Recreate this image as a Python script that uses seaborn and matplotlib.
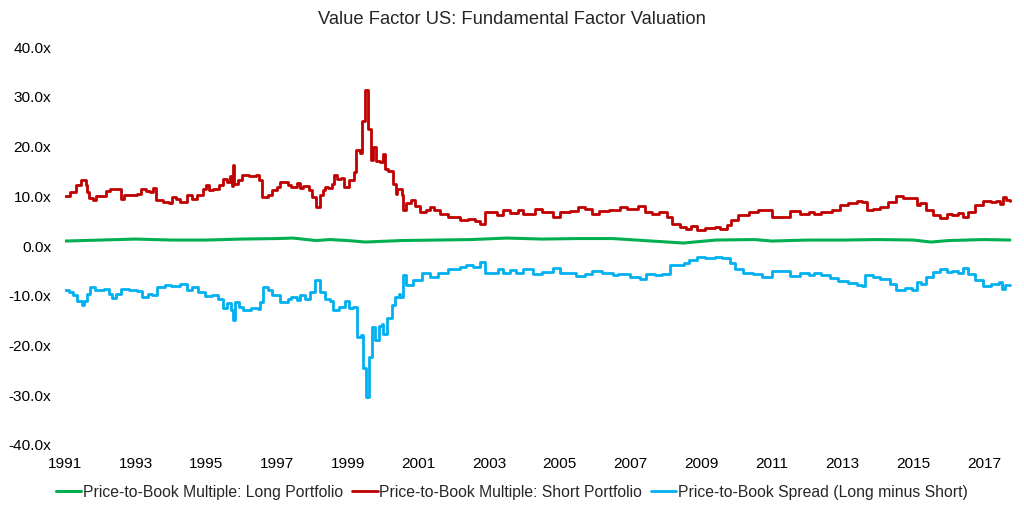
import numpy as np
import pandas as pd
import seaborn as sns
import matplotlib.pyplot as plt
from matplotlib.ticker import FuncFormatter

# Readings (decimal year, multiple)
long_dates = [1991.00, 1992.00, 1993.00, 1994.00, 1995.00, 1996.00, 1997.00, 1997.45,
              1998.10, 1998.50, 1999.00, 1999.50, 2000.50, 2001.50, 2002.50, 2003.50,
              2004.50, 2005.50, 2006.50, 2007.60, 2008.50, 2009.40, 2010.50, 2011.00,
              2012.00, 2013.00, 2014.00, 2015.00, 2015.50, 2016.00, 2017.00, 2017.73]
long_pb = [1.0, 1.2, 1.4, 1.2, 1.2, 1.4, 1.5, 1.6,
           1.1, 1.3, 1.1, 0.8, 1.1, 1.2, 1.3, 1.6,
           1.4, 1.5, 1.5, 1.0, 0.6, 1.2, 1.3, 1.0,
           1.2, 1.2, 1.3, 1.2, 0.8, 1.1, 1.3, 1.2]

short_dates = [1991.00, 1991.14, 1991.30, 1991.45, 1991.58, 1991.63, 1991.68, 1991.80, 1991.88,
               1992.10, 1992.17, 1992.27, 1992.45, 1992.58, 1992.68, 1993.05, 1993.15, 1993.30,
               1993.40, 1993.50, 1993.57, 1993.78, 1993.95, 1994.02, 1994.15, 1994.25, 1994.44,
               1994.60, 1994.72, 1994.90, 1995.00, 1995.08, 1995.20, 1995.35, 1995.48, 1995.58,
               1995.68, 1995.72, 1995.74, 1995.79, 1995.90, 1996.00, 1996.20, 1996.40, 1996.50,
               1996.56, 1996.75, 1996.85, 1996.99, 1997.08, 1997.30, 1997.40, 1997.55, 1997.65,
               1997.72, 1997.90, 1997.98, 1998.10, 1998.20, 1998.30, 1998.36, 1998.45, 1998.55,
               1998.60, 1998.70, 1998.82, 1998.90, 1999.02, 1999.18, 1999.23, 1999.35, 1999.41,
               1999.49, 1999.58, 1999.65, 1999.72, 1999.80, 1999.90, 1999.99, 2000.05, 2000.15,
               2000.27, 2000.35, 2000.40, 2000.52, 2000.57, 2000.65, 2000.80, 2000.90, 2001.04,
               2001.20, 2001.33, 2001.45, 2001.61, 2001.84, 2002.17, 2002.40, 2002.60, 2002.74,
               2002.88, 2003.21, 2003.40, 2003.60, 2003.82, 2003.95, 2004.30, 2004.50, 2004.81,
               2005.00, 2005.30, 2005.52, 2005.70, 2005.90, 2006.10, 2006.40, 2006.70, 2006.90,
               2007.22, 2007.41, 2007.60, 2007.80, 2008.02, 2008.16, 2008.40, 2008.58, 2008.70,
               2008.87, 2009.10, 2009.40, 2009.53, 2009.72, 2009.85, 2010.05, 2010.35, 2010.61,
               2010.80, 2010.99, 2011.27, 2011.51, 2011.79, 2012.05, 2012.20, 2012.40, 2012.69,
               2012.92, 2013.15, 2013.40, 2013.55, 2013.68, 2013.85, 2014.05, 2014.29, 2014.52,
               2014.70, 2014.95, 2015.10, 2015.20, 2015.37, 2015.56, 2015.75, 2015.95, 2016.10,
               2016.27, 2016.41, 2016.55, 2016.74, 2016.98, 2017.20, 2017.35, 2017.45, 2017.55,
               2017.62, 2017.73]
short_pb = [10.0, 10.8, 12.2, 13.2, 12.2, 10.8, 9.6, 9.2, 10.0,
            10.0, 11.0, 11.5, 11.4, 9.5, 10.2, 10.4, 11.5, 11.0,
            10.8, 11.7, 9.2, 8.8, 8.6, 9.8, 9.4, 8.8, 10.2,
            9.4, 10.2, 11.5, 12.2, 11.2, 11.5, 12.2, 13.5, 12.8,
            14.0, 12.0, 16.2, 12.5, 13.2, 14.2, 14.0, 14.2, 13.2,
            9.8, 10.2, 11.2, 11.9, 12.9, 12.2, 11.9, 12.7, 11.7,
            12.0, 11.2, 9.8, 7.8, 10.2, 11.2, 11.9, 11.7, 12.5,
            14.2, 13.4, 13.7, 11.9, 13.2, 14.9, 19.4, 18.8, 25.2,
            31.3, 23.6, 17.2, 20.0, 17.0, 16.8, 18.5, 15.5, 15.0,
            12.5, 10.5, 11.5, 10.2, 7.2, 8.6, 9.2, 8.0, 6.8,
            7.3, 7.8, 7.2, 6.5, 5.8, 5.3, 5.5, 5.0, 4.5,
            6.8, 6.2, 7.2, 6.6, 7.2, 6.4, 7.5, 6.8, 5.8,
            6.8, 7.0, 7.8, 7.5, 6.5, 7.0, 7.2, 7.8, 7.5,
            8.0, 6.8, 6.5, 6.8, 5.8, 4.4, 3.9, 3.5, 4.0,
            3.2, 3.6, 3.8, 3.5, 4.2, 5.2, 6.2, 6.8, 7.2,
            7.3, 5.8, 5.8, 7.0, 6.4, 6.8, 6.4, 6.8, 7.3,
            8.2, 8.6, 9.0, 8.8, 7.2, 7.4, 7.8, 8.8, 10.0,
            9.6, 9.7, 8.2, 8.6, 7.3, 6.2, 5.7, 6.4, 6.2,
            6.6, 5.8, 6.8, 8.2, 9.0, 8.8, 9.0, 8.5, 9.8,
            9.2, 9.0]

spread_dates = [1991.00, 1991.10, 1991.23, 1991.35, 1991.47, 1991.55, 1991.61, 1991.71, 1991.85,
                1992.10, 1992.23, 1992.32, 1992.45, 1992.58, 1992.80, 1993.05, 1993.17, 1993.35,
                1993.45, 1993.59, 1993.83, 1994.00, 1994.25, 1994.44, 1994.60, 1994.77, 1994.96,
                1995.15, 1995.34, 1995.48, 1995.58, 1995.70, 1995.76, 1995.81, 1995.92, 1996.04,
                1996.25, 1996.45, 1996.52, 1996.61, 1996.75, 1996.85, 1997.08, 1997.30, 1997.40,
                1997.55, 1997.65, 1997.80, 1997.93, 1998.07, 1998.21, 1998.36, 1998.50, 1998.59,
                1998.75, 1998.92, 1999.02, 1999.16, 1999.25, 1999.38, 1999.44, 1999.51, 1999.61,
                1999.68, 1999.77, 1999.87, 1999.96, 2000.00, 2000.10, 2000.24, 2000.34, 2000.45,
                2000.48, 2000.57, 2000.65, 2000.85, 2001.09, 2001.33, 2001.56, 2001.84, 2002.17,
                2002.35, 2002.55, 2002.74, 2002.88, 2003.10, 2003.25, 2003.40, 2003.60, 2003.75,
                2003.96, 2004.25, 2004.50, 2004.81, 2005.00, 2005.47, 2005.70, 2005.90, 2006.20,
                2006.51, 2006.65, 2006.98, 2007.27, 2007.45, 2007.70, 2007.90, 2008.12, 2008.50,
                2008.65, 2008.87, 2009.10, 2009.40, 2009.60, 2009.81, 2009.95, 2010.19, 2010.45,
                2010.71, 2010.99, 2011.27, 2011.51, 2011.79, 2012.05, 2012.20, 2012.40, 2012.64,
                2012.88, 2013.15, 2013.40, 2013.55, 2013.63, 2013.85, 2014.05, 2014.34, 2014.52,
                2014.75, 2014.95, 2015.09, 2015.22, 2015.37, 2015.56, 2015.75, 2015.95, 2016.10,
                2016.27, 2016.41, 2016.55, 2016.74, 2016.98, 2017.20, 2017.41, 2017.50, 2017.60,
                2017.73]
spread_pb = [-8.9, -9.2, -9.9, -11.0, -11.9, -11.0, -9.6, -8.2, -8.8,
             -8.6, -9.7, -10.4, -9.7, -8.6, -8.9, -9.0, -10.2, -9.7,
             -9.9, -8.2, -7.8, -8.1, -7.7, -8.9, -8.2, -9.2, -10.1,
             -9.9, -10.6, -12.4, -11.5, -12.9, -14.9, -11.2, -12.2, -12.9,
             -12.4, -12.6, -11.2, -8.2, -8.9, -9.9, -11.2, -10.6, -10.2,
             -10.9, -9.9, -10.6, -9.2, -6.9, -9.2, -10.6, -11.0, -12.9,
             -12.2, -11.0, -12.4, -12.2, -18.3, -17.8, -24.6, -30.3, -22.3,
             -16.3, -18.9, -16.0, -15.6, -17.6, -14.4, -11.9, -10.2, -9.6,
             -10.2, -5.9, -7.9, -6.9, -5.5, -6.2, -5.4, -4.7, -4.2,
             -3.9, -4.2, -3.2, -5.4, -5.4, -4.7, -5.5, -4.9, -5.5,
             -4.7, -5.7, -5.2, -4.5, -5.4, -6.1, -5.6, -5.0, -5.4,
             -5.9, -5.6, -6.2, -6.7, -5.7, -5.9, -5.6, -3.9, -3.4,
             -2.9, -2.2, -2.5, -2.3, -2.4, -3.5, -4.7, -5.4, -5.6,
             -6.2, -5.0, -5.0, -6.1, -5.4, -5.9, -5.4, -5.9, -6.4,
             -7.0, -7.4, -7.9, -8.1, -5.9, -6.3, -6.7, -7.7, -8.8,
             -8.4, -8.8, -7.2, -7.6, -6.2, -5.2, -4.7, -5.2, -5.0,
             -5.5, -4.5, -5.6, -6.9, -8.1, -7.6, -7.2, -8.6, -7.9,
             -7.9]

labels = ["Price-to-Book Multiple: Long Portfolio",
          "Price-to-Book Multiple: Short Portfolio",
          "Price-to-Book Spread (Long minus Short)"]
colors = ["#00B050", "#C00000", "#00B0F0"]
year_ticks = list(range(1991, 2018, 2))

sns.set_style("white")
plt.rcParams["font.family"] = ["Liberation Sans", "DejaVu Sans"]

fig = plt.figure(figsize=(10.24, 5.12), dpi=100)
ax = fig.add_axes([0.0635, 0.131, 0.932, 0.777])

long_df = pd.DataFrame({"date": long_dates, "value": long_pb})
short_df = pd.DataFrame({"date": short_dates, "value": short_pb})
spread_df = pd.DataFrame({"date": spread_dates, "value": spread_pb})

sns.lineplot(data=long_df, x="date", y="value", ax=ax, color=colors[0],
             linewidth=2.2, label=labels[0])
sns.lineplot(data=short_df, x="date", y="value", ax=ax, color=colors[1],
             linewidth=2.0, drawstyle="steps-post", label=labels[1])
sns.lineplot(data=spread_df, x="date", y="value", ax=ax, color=colors[2],
             linewidth=2.0, drawstyle="steps-post", label=labels[2])

ax.set_xlim(1991, 2018)
ax.set_ylim(-40, 40)
ax.set_yticks(range(-40, 41, 10))
ax.yaxis.set_major_formatter(FuncFormatter(lambda v, p: f"{v:.1f}x"))
ax.set_xticks(year_ticks)
ax.set_xticklabels([str(y) for y in year_ticks])
ax.tick_params(axis="both", length=0, labelsize=11.1, labelcolor="#000000")
ax.tick_params(axis="y", pad=10)
ax.tick_params(axis="x", pad=9)
ax.set_xlabel("")
ax.set_ylabel("")
sns.despine(ax=ax, left=True, bottom=True)

ax.get_legend().remove()
handles, labs = ax.get_legend_handles_labels()
fig.legend(handles, labs, loc="center", bbox_to_anchor=(0.5, 0.039), ncol=3,
           frameon=False, fontsize=11.3, handlelength=1.6, handletextpad=0.1,
           columnspacing=0.6, borderaxespad=0)

fig.suptitle("Value Factor US: Fundamental Factor Valuation", fontsize=13.2, y=0.978)

fig.savefig("out.png", dpi=100)
